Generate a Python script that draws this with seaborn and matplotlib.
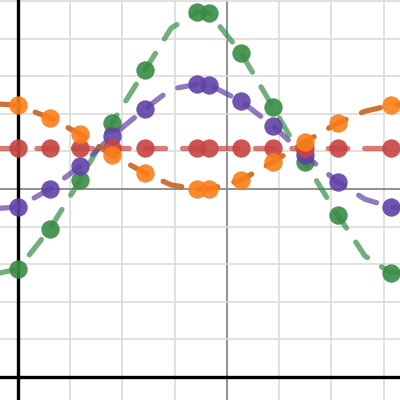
import numpy as np
import pandas as pd
import matplotlib
matplotlib.use('Agg')
import matplotlib.pyplot as plt
import seaborn as sns

# ---- values (grid units) ----
dot_x = [0, 0.61, 1.19, 1.80, 2.43, 3.43, 3.66, 4.27, 4.88, 5.49, 6.12, 7.14]
green_dots  = [2.87, 3.94, 5.24, 6.76, 8.16, 9.71, 9.68, 8.62, 7.18, 5.72, 4.31, 2.77]
purple_dots = [4.52, 5.00, 5.61, 6.41, 7.13, 7.79, 7.77, 7.34, 6.68, 5.90, 5.19, 4.52]
red_dots    = [6.09] * 12
orange_dots = [7.23, 6.89, 6.46, 5.90, 5.43, 5.00, 5.00, 5.24, 5.72, 6.25, 6.76, 7.23]

# dashed curves: the dots plus a few extra points
curve_x = [-0.34, 0, 0.61, 1.19, 1.80, 2.43, 2.93, 3.43, 3.66, 4.27, 4.88, 5.49, 6.12, 6.64, 7.14, 7.31]
green_curve  = [2.77, 2.87, 3.94, 5.24, 6.76, 8.16, 9.28, 9.71, 9.68, 8.62, 7.18, 5.72, 4.31, 3.22, 2.77, 2.79]
purple_curve = [4.49, 4.52, 5.00, 5.61, 6.41, 7.13, 7.66, 7.79, 7.77, 7.34, 6.68, 5.90, 5.19, 4.73, 4.52, 4.52]
red_curve    = [6.09] * 16
orange_curve = [7.26, 7.23, 6.89, 6.46, 5.90, 5.43, 5.11, 5.00, 5.00, 5.24, 5.72, 6.25, 6.76, 7.07, 7.23, 7.26]

series = ['green', 'purple', 'red', 'orange']
dot_colors  = {'green': '#388c46', 'purple': '#6042a6', 'red': '#c74440', 'orange': '#fa7e19'}
line_colors = {'green': '#388c46', 'purple': '#6042a6', 'red': '#c74440', 'orange': '#c8641e'}

dots = pd.DataFrame({
    'x': dot_x * 4,
    'y': green_dots + purple_dots + red_dots + orange_dots,
    'series': np.repeat(series, len(dot_x)),
})
curves = pd.DataFrame({
    'x': curve_x * 4,
    'y': green_curve + purple_curve + red_curve + orange_curve,
    'series': np.repeat(series, len(curve_x)),
})

sns.set_style('white')
plt.rcParams['lines.dash_capstyle'] = 'round'

fig = plt.figure(figsize=(4, 4), dpi=100)
ax = fig.add_axes([0, 0, 1, 1])

# grid
for gx in range(1, 8):
    ax.axvline(gx, color='#888888' if gx == 4 else '#dcdcdc',
               lw=1.3 if gx == 4 else 1.2, zorder=0)
for gy in range(1, 11):
    ax.axhline(gy, color='#888888' if gy == 5 else '#dcdcdc',
               lw=1.3 if gy == 5 else 1.2, zorder=0)
ax.axvline(0, color='black', lw=2.4, zorder=1)
ax.axhline(0, color='black', lw=2.4, zorder=1)

z = 2
for s in series:
    sub_c = curves[curves['series'] == s]
    sns.lineplot(data=sub_c, x='x', y='y', color=line_colors[s], lw=3.8,
                 alpha=0.7 if s != 'orange' else 0.9, sort=False,
                 ax=ax, zorder=z, legend=False)
    ax.lines[-1].set_dashes((3.7, 3.2))
    sub_d = dots[dots['series'] == s]
    sns.scatterplot(data=sub_d, x='x', y='y', color=dot_colors[s], s=175,
                    alpha=0.9, linewidth=0, ax=ax, zorder=z + 1, legend=False)
    z += 2

ax.set_xlim(-0.344, 7.311)
ax.set_ylim(-0.612, 10.03)
ax.set_xticks([])
ax.set_yticks([])
ax.set_xlabel('')
ax.set_ylabel('')
for sp in ax.spines.values():
    sp.set_visible(False)

fig.savefig('out.png', dpi=100)
